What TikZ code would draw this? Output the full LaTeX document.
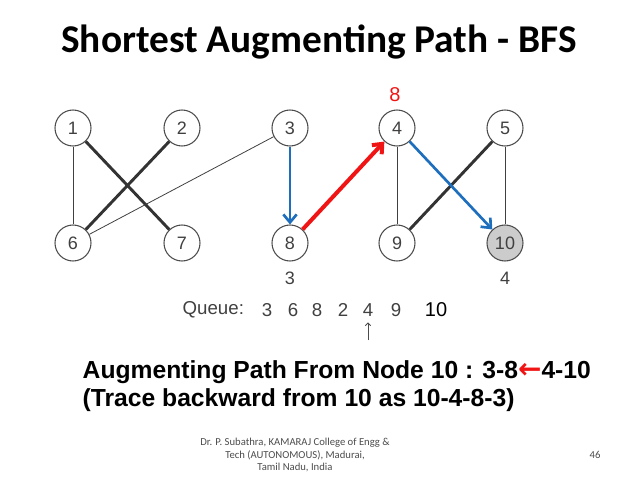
\documentclass[tikz,border=0pt]{standalone}
\usepackage{fontspec}
\setmainfont{Liberation Sans}
\newfontfamily\calfont{Carlito}
\usetikzlibrary{arrows.meta}
\definecolor{myblue}{RGB}{30,110,190}
\definecolor{myred}{RGB}{240,20,20}
\begin{document}
\begin{tikzpicture}[x=0.75pt,y=-0.75pt,
  vtx/.style={circle,draw=black!70,thick,minimum size=27pt,inner sep=0pt,font=\fontsize{13.5}{13.5}\selectfont,text=black!75},
  thin/.style={black!75,line width=0.6pt},
  thick2/.style={black!80,line width=2.2pt},
  barrow/.style={myblue,line width=2pt,-{Straight Barb[length=6pt,width=10pt]}},
  rarrow/.style={myred,line width=3pt,-{Straight Barb[length=6pt,width=10pt]}}]
\useasboundingbox (0,0) rectangle (638,478);
\node[font=\calfont\bfseries\fontsize{29.5}{29.5}\selectfont] (title) at (319,42) {Shortest Augmenting Path - BFS};
\node[vtx] (n1) at (73,128) {1};
\node[vtx] (n2) at (182,128) {2};
\node[vtx] (n3) at (290,128) {3};
\node[vtx] (n4) at (397,128) {4};
\node[vtx] (n5) at (505,128) {5};
\node[vtx] (n6) at (73,243) {6};
\node[vtx] (n7) at (182,243) {7};
\node[vtx] (n8) at (290,243) {8};
\node[vtx] (n9) at (397,243) {9};
\node[vtx,fill=black!20] (n10) at (505,243) {10};
\draw[thin] (n1) -- (n6);
\draw[thick2] (n1) -- (n7);
\draw[thick2] (n2) -- (n6);
\draw[thin] (n3) -- (n6);
\draw[thin] (n4) -- (n9);
\draw[thick2] (n5) -- (n9);
\draw[thin] (n5) -- (n10);
\draw[barrow] (n3) -- (n8);
\draw[rarrow] (n8) -- (n4);
\draw[barrow] (n4) -- (n10);
\node[text=myred,font=\fontsize{15}{15}\selectfont] (l8) at (395,95) {8};
\node[text=black!75,font=\fontsize{13.5}{13.5}\selectfont] (l3) at (290,278) {3};
\node[text=black!75,font=\fontsize{13.5}{13.5}\selectfont] (l4) at (505,278) {4};
\begin{scope}[every node/.style={text=black!75,font=\fontsize{14}{14}\selectfont}]
\node[anchor=west] (q) at (178,310) {Queue:};
\node (q1) at (267,310) {3};
\node (q2) at (293,310) {6};
\node (q3) at (317,310) {8};
\node (q4) at (343,310) {2};
\node (q5) at (368,310) {4};
\node (q6) at (396,310) {9};
\node[text=black,font=\fontsize{15}{15}\selectfont] (q7) at (436,310) {10};
\end{scope}
\coordinate (arb) at (368,340);
\draw[black!70,line width=0.6pt,-{Straight Barb[length=2pt,width=4pt]}] (arb) -- ([yshift=-1pt]q5.south);
\node[anchor=west,font=\bfseries\fontsize{18.5}{22}\selectfont] (aug1) at (78,372) {Augmenting Path From Node 10 : 3-8\textcolor{myred}{\fontspec{DejaVu Sans}\bfseries\fontsize{21}{22}\selectfont ←}4-10};
\node[anchor=west,font=\bfseries\fontsize{18.5}{22}\selectfont] (aug2) at (78,400) {(Trace backward from 10 as 10-4-8-3)};
\node[align=center,text=black!70,font=\calfont\fontsize{8}{9.5}\selectfont] (foot) at (295,455) {Dr. P. Subathra, KAMARAJ College of Engg \&\\Tech (AUTONOMOUS), Madurai,\\Tamil Nadu, India};
\node[text=black!70,font=\calfont\fontsize{8}{9.5}\selectfont] (pg) at (595,455) {46};
\end{tikzpicture}
\end{document}
